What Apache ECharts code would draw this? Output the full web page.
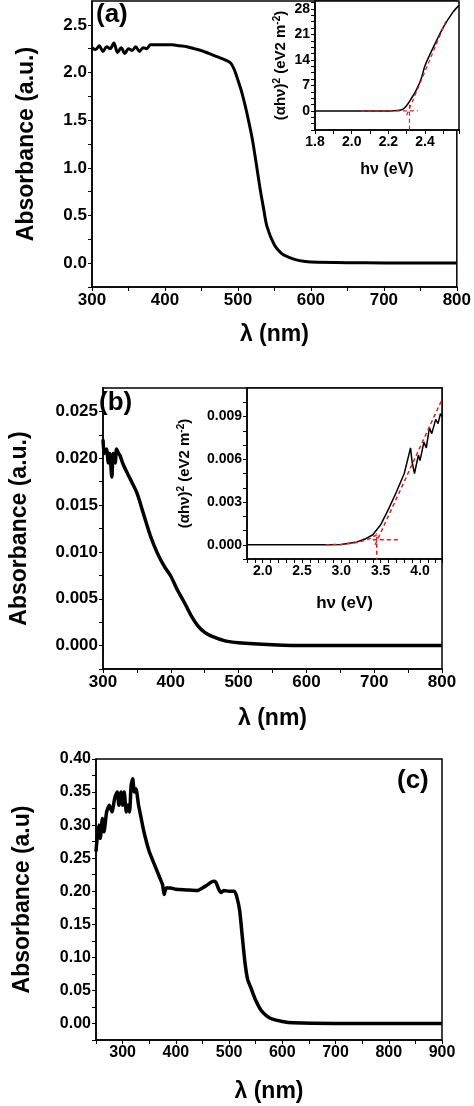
<!DOCTYPE html>
<html><head><meta charset="utf-8">
<script src="https://cdn.jsdelivr.net/npm/echarts@6/dist/echarts.min.js"></script>
<style>html,body{margin:0;padding:0;background:#fff}#c{width:474px;height:1106px}</style>
</head><body><div id="c"></div>
<script>
// Panel (a)
const aX=[300,305,310,315,320,325,330,335,340,345,350,355,360,365,370,375,380,390,400,410,420,430,440,450,460,470,480,490,495,500,505,510,515,520,525,530,535,540,550,560,570,580,590,600,650,700,750,800];
const aY=[2.26,2.24,2.28,2.22,2.27,2.25,2.31,2.21,2.26,2.20,2.25,2.23,2.27,2.22,2.26,2.25,2.29,2.29,2.29,2.29,2.28,2.27,2.25,2.23,2.20,2.17,2.14,2.10,2.03,1.92,1.80,1.65,1.48,1.29,1.05,0.80,0.58,0.38,0.19,0.10,0.06,0.035,0.02,0.012,0.005,0.003,0.003,0.003];
const aiX=[1.8,2.0,2.2,2.25,2.28,2.30,2.32,2.35,2.38,2.40,2.45,2.50,2.55,2.585];
const aiY=[0,0,0,0.1,0.5,1.5,3,5.5,9,12.5,18,23,27,29];
const aFitX=[2.30,2.52]; const aFitY=[-1.2,25.4];
const aBaseX=[2.05,2.36]; const aBaseY=[0,0];
const aVertX=[2.315,2.315]; const aVertY=[-5.2,2];
// Panel (b)
const bX=[300,302,305,308,310,313,315,318,320,323,325,330,340,350,360,370,380,390,400,410,420,430,440,450,460,480,500,550,600,700,800];
const bY=[0.022,0.0205,0.021,0.0195,0.0205,0.018,0.0205,0.0195,0.021,0.0205,0.0203,0.0193,0.0178,0.0163,0.014,0.0117,0.0099,0.0085,0.0074,0.0059,0.0046,0.0032,0.0021,0.0014,0.001,0.0005,0.0003,0.0001,0,0,0];
const biX=[1.8,2.8,3.0,3.2,3.3,3.4,3.5,3.6,3.7,3.8,3.88,3.9,3.93,3.98,4.0,4.05,4.08,4.12,4.15,4.2,4.23,4.26,4.28];
const biY=[0,0,0.00002,0.0002,0.0004,0.0007,0.0014,0.0025,0.0037,0.005,0.0068,0.0058,0.005,0.0063,0.0059,0.0072,0.0068,0.0082,0.0078,0.0088,0.0085,0.0092,0.009];
const bFitX=[3.43,4.28]; const bFitY=[0,0.0102];
const bTailX=[2.8,3.0,3.2,3.35,3.45]; const bTailY=[0,0.00002,0.00015,0.0004,0.0007];
const bBaseX=[3.4,3.75]; const bBaseY=[0.00035,0.00035];
const bVertX=[3.45,3.45]; const bVertY=[-0.0012,0.0008];
// Panel (c)
const cX=[250,255,258,262,265,270,275,280,285,290,293,297,300,303,307,310,313,316,319,322,325,330,335,340,350,360,370,375,378,382,390,400,420,440,450,460,470,475,480,485,490,500,510,515,520,525,530,535,540,550,560,570,580,600,620,700,800,900];
const cY=[0.26,0.30,0.28,0.31,0.29,0.32,0.33,0.32,0.34,0.35,0.33,0.35,0.33,0.35,0.32,0.33,0.32,0.36,0.37,0.35,0.355,0.33,0.31,0.29,0.26,0.24,0.22,0.21,0.195,0.205,0.205,0.203,0.202,0.201,0.205,0.21,0.215,0.214,0.204,0.198,0.201,0.2,0.2,0.19,0.17,0.13,0.091,0.066,0.056,0.035,0.02,0.012,0.007,0.003,0.001,0,0,0];

const zip=(x,y)=>x.map((v,i)=>[v,y[i]]);
const ff='Liberation Sans, Arial, sans-serif';
const step=(v,s)=>Math.abs(v/s-Math.round(v/s))<1e-6;
function xa(gi,min,max,itv,lab,dec,fs,name,gap,nfs){
  return {type:'value',gridIndex:gi,min,max,interval:itv,
    axisLine:{show:true,onZero:false,lineStyle:{color:'#000',width:1.5}},
    axisTick:{show:true,length:4,lineStyle:{color:'#000'}},splitLine:{show:false},
    axisLabel:{color:'#000',fontFamily:ff,fontWeight:'bold',fontSize:fs,margin:5,showMaxLabel:true,showMinLabel:true,hideOverlap:false,
      formatter:v=>step(v,lab)?v.toFixed(dec):''},
    name,nameLocation:'middle',nameGap:gap,nameTextStyle:{color:'#000',fontFamily:ff,fontWeight:'bold',fontSize:nfs}};
}
function ya(gi,min,max,itv,lab,dec,fs,name,gap,nfs,rich,showMax){
  const o=xa(gi,min,max,itv,lab,dec,fs,name,gap,nfs);
  o.axisLabel.showMaxLabel=!!showMax;
  if(rich)o.nameTextStyle.rich=rich;
  return o;
}
const sup={s:{fontSize:10,fontWeight:'bold',fontFamily:ff,color:'#000',verticalAlign:'top',padding:[0,0,7,0]},n:{fontSize:15,fontWeight:'bold',fontFamily:ff,color:'#000'}};
const insetName='{n|(αhν)}{s|2}{n| (eV2 m}{s|-2}{n|)}';
const line=(gi,data,w,color,dash,sm)=>({type:'line',xAxisIndex:gi,yAxisIndex:gi,data,showSymbol:false,symbol:'none',smooth:sm||false,
  lineStyle:{color,width:w,type:dash?[4,3]:'solid'},z:dash?5:3,animation:false});

const grid={show:true,borderColor:'#000',borderWidth:1.5,backgroundColor:'transparent'};
const ig={show:true,borderColor:'#000',borderWidth:1.5,backgroundColor:'#fff'};
const option={
  animation:false,
  grid:[
    Object.assign({left:92,top:1,width:368,height:286},grid),
    Object.assign({left:315,top:1,width:144,height:129},ig),
    Object.assign({left:96,top:388,width:346,height:281},grid),
    Object.assign({left:247,top:388,width:195,height:171},ig),
    Object.assign({left:96,top:759,width:346,height:281},grid)
  ],
  xAxis:[
    xa(0,300,800,50,100,0,17,'λ (nm)',36,23),
    xa(1,1.8,2.585,0.1,0.2,1,14,'hν (eV)',32,16),
    xa(2,300,800,50,100,0,17,'λ (nm)',38,23),
    xa(3,1.8,4.28,0.1,0.5,1,14,'hν (eV)',36,17),
    xa(4,250,900,50,100,0,16,'λ (nm)',40,23)
  ],
  yAxis:[
    ya(0,-0.25,2.75,0.25,0.5,1,17,'Absorbance (a.u.)',54,23),
    ya(1,-5.25,30.2,1.75,7,0,14,insetName,26,15,sup),
    ya(2,-0.0025,0.0275,0.0025,0.005,3,17,'Absorbance (a.u.)',72,23),
    ya(3,-0.001,0.011,0.001,0.003,3,14,insetName,54,15,sup),
    ya(4,-0.025,0.40,0.025,0.05,2,16,'Absorbance (a.u)',62,23,null,true)
  ],
  series:[
    line(0,zip(aX,aY),3,'#000',false,0.3),
    line(1,zip(aiX,aiY),1.5,'#000',false,0.3),
    line(1,zip(aFitX,aFitY),1.2,'#e02020',true),
    line(1,zip(aBaseX,aBaseY),1.2,'#e02020',true),
    line(1,zip(aVertX,aVertY),1.2,'#e02020',true),
    line(2,zip(bX,bY),3.5,'#000',false,0.3),
    line(3,zip(biX,biY),1.5,'#000'),
    line(3,zip(bFitX,bFitY),1.5,'#e02020',true),
    line(3,zip(bTailX,bTailY),1.5,'#e02020',true),
    line(3,zip(bBaseX,bBaseY),1.5,'#e02020',true),
    line(3,zip(bVertX,bVertY),1.5,'#e02020',true),
    line(4,zip(cX,cY),3.5,'#000',false,0.2)
  ],
  graphic:[
    {type:'text',left:96,top:2,style:{text:'(a)',font:'bold 26px '+ff,fill:'#000'}},
    {type:'text',left:99,top:390,style:{text:'(b)',font:'bold 26px '+ff,fill:'#000'}},
    {type:'text',left:397,top:768,style:{text:'(c)',font:'bold 26px '+ff,fill:'#000'}}
  ]
};
const ch=echarts.init(document.getElementById('c'),null,{renderer:'canvas'});
ch.setOption(option);
</script></body></html>
